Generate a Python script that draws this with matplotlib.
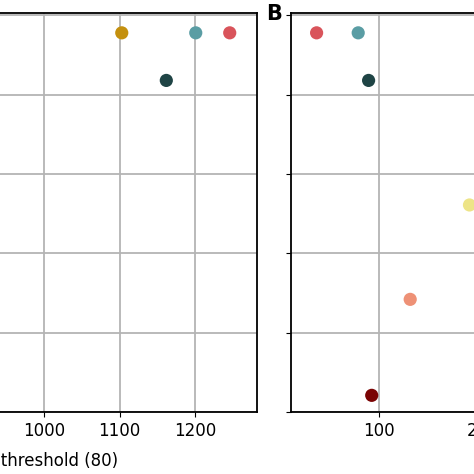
import numpy as np
import matplotlib.pyplot as plt

# panel A (left, cropped)
a_x = [1103, 1201, 1246, 1162]
a_y = [4.78, 4.78, 4.78, 4.18]
a_col = ['#C4900E', '#5A9DA4', '#D9545B', '#1F4445']

# panel B (right, cropped)
b_x = [40, 80, 90, 187, 130, 93]
b_y = [4.78, 4.78, 4.18, 2.61, 1.42, 0.21]
b_col = ['#D9545B', '#5A9DA4', '#1F4445', '#EDE487', '#EE9176', '#7A0303']

W = 474.0
fig = plt.figure(figsize=(4.74, 4.74), dpi=100)

bot = 1 - 412 / W
top = 1 - 13 / W
h = top - bot

# left axes: right edge at 257px, 1000 at 44px, 75.5 px per 100
px_per = 0.755
left_px = -200
axA = fig.add_axes([left_px / W, bot, (257 - left_px) / W, h])
axA.set_xlim(1000 + (left_px - 44) / px_per, 1000 + (257 - 44) / px_per)
axA.scatter(a_x, a_y, c=a_col, s=90, zorder=3, edgecolors='none')
axA.set_xticks([1000, 1100, 1200])
axA.set_ylim(0, 5.03)
axA.set_yticks([0, 1, 2, 3, 4, 5])
axA.set_yticklabels([])
axA.grid(True, color='#b4b4b4', lw=1.3)
axA.set_axisbelow(True)
axA.tick_params(labelsize=12)
axA.set_xlabel('Score threshold (80)', fontsize=12, ha='right')
axA.xaxis.set_label_coords((118 - left_px) / (257 - left_px), -0.1)

# right axes: left edge 291px, 100 at 379px, 104 px per 100
px_per_b = 1.04
axB = fig.add_axes([291 / W, bot, 300 / W, h])
axB.set_xlim(100 + (291 - 379) / px_per_b, 100 + (591 - 379) / px_per_b)
axB.scatter(b_x, b_y, c=b_col, s=90, zorder=3, edgecolors='none')
axB.set_xticks([100, 200])
axB.set_ylim(0, 5.03)
axB.set_yticks([0, 1, 2, 3, 4, 5])
axB.set_yticklabels([])
axB.grid(True, color='#b4b4b4', lw=1.3)
axB.set_axisbelow(True)
axB.tick_params(labelsize=12)

for ax in (axA, axB):
    for sp in ax.spines.values():
        sp.set_linewidth(1.3)

fig.text(266 / W, 1 - 14 / W, 'B', fontsize=15, fontweight='bold', va='center', ha='left')

fig.savefig('out.png', dpi=100)
